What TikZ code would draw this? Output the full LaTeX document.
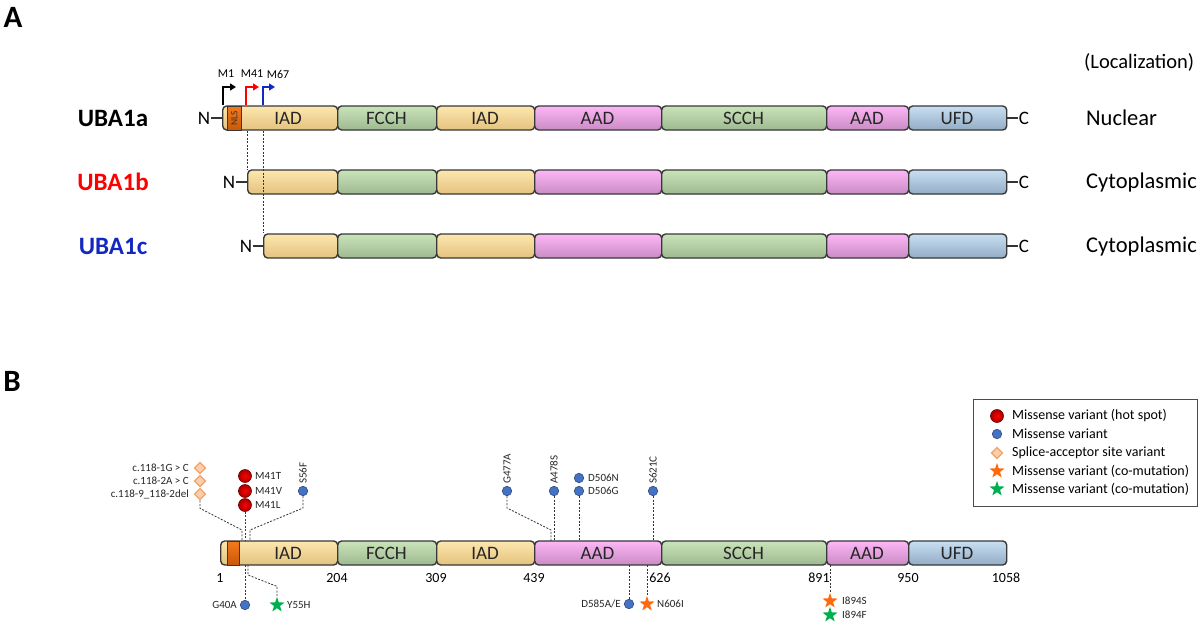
\documentclass[tikz,border=0pt]{standalone}
\usepackage{fontspec}
\setmainfont{Carlito}
\usetikzlibrary{arrows.meta,shapes.geometric}

\definecolor{iadT}{HTML}{FDE7AE}
\definecolor{iadB}{HTML}{E3C27E}
\definecolor{fcchT}{HTML}{CAE4BA}
\definecolor{fcchB}{HTML}{9DB98F}
\definecolor{aadT}{HTML}{FDB6F6}
\definecolor{aadB}{HTML}{C98BC4}
\definecolor{ufdT}{HTML}{C8DEF2}
\definecolor{ufdB}{HTML}{93ADC5}
\definecolor{nlsT}{HTML}{F57A1C}
\definecolor{nlsB}{HTML}{C95808}
\definecolor{misblue}{HTML}{4472C4}
\definecolor{splfill}{HTML}{F9CDAE}
\definecolor{splline}{HTML}{F4A366}
\definecolor{coorange}{HTML}{FF6A10}
\definecolor{cogreen}{HTML}{00B050}
\definecolor{isoblue}{HTML}{1428C0}

\newcommand{\fsz}[1]{\fontsize{#1}{#1}\selectfont}
% domain map shared by every bar: start/end/style/label
\newcommand{\domains}{337/436/fcch/FCCH, 436/534/iad/IAD, 534/661/aad/AAD, 661/826/scch/SCCH, 826/908/aad/AAD, 908/1006/ufd/UFD}

\tikzset{
  dom/.style={draw=black!78,line width=1.4pt,rounded corners=4pt,minimum height=24pt,inner sep=0pt,anchor=west},
  iad/.style={top color=iadT,bottom color=iadB},
  fcch/.style={top color=fcchT,bottom color=fcchB},
  scch/.style={fcch},
  aad/.style={top color=aadT,bottom color=aadB},
  ufd/.style={top color=ufdT,bottom color=ufdB},
  dlab/.style={font=\fsz{19},text=black!85},
  dline/.style={dash pattern=on 2pt off 1.5pt,line width=0.8pt,black!80},
  initarr/.style={line width=1.4pt,-{Triangle[length=6pt,width=7pt]}},
  small/.style={font=\fsz{11},text=black!85},
  hot/.style={circle,minimum size=13pt,inner color=red,outer color=red!65!black,draw=red!45!black,line width=0.6pt},
  mis/.style={circle,minimum size=9.5pt,fill=misblue,draw=misblue!65!black,line width=0.6pt},
  spl/.style={diamond,minimum size=11.5pt,fill=splfill,draw=splline,line width=1.2pt},
  costar/.style={star,star points=5,star point ratio=2.5,minimum size=16pt}
}

\begin{document}
\begin{tikzpicture}[x=1pt,y=-1pt,every node/.style={inner sep=0pt}]
  \useasboundingbox (0,0) rectangle (1200,624);

  %%% A: isoforms
  \node[font=\bfseries\fsz{31}] (pa) at (13,17) {A};
  \node[font=\fsz{20.5},anchor=west] (loc) at (1084,62) {(Localization)};

  \foreach \r/\y/\xs in {a/118/222,b/182/247,c/246/263,p/553/220}{
    \node[dom,iad,minimum width={337-\xs}] (\r-0) at (\xs,\y) {};
    \foreach \xa/\xb/\st/\lab [count=\i] in \domains
      \node[dom,\st,minimum width={\xb-\xa}] (\r-\i) at (\xa,\y) {};
  }
  \foreach \r/\y in {a/118,p/553}{
    \node[dlab] at (288,\y) {IAD};
    \foreach \xa/\xb/\st/\lab in \domains
      \node[dlab] at ({(\xa+\xb)/2},\y) {\lab};
  }

  \node[dom,top color=nlsT,bottom color=nlsB,rounded corners=0pt,line width=0.8pt,minimum width=14pt] (a-nls) at (227,118) {};
  \node[rotate=90,font=\fsz{9.5},text=black!80] at (a-nls.center) {NLS};

  % N and C ends
  \foreach \r/\y/\xn in {a/118/204,b/182/229,c/246/246}{
    \node[font=\fsz{19},inner sep=1pt] (n-\r) at (\xn,\y) {N};
    \draw[line width=1.4pt,black!80] (n-\r.east) -- (\r-0.west);
    \node[font=\fsz{19},inner sep=1pt] (c-\r) at (1024,\y) {C};
    \draw[line width=1.4pt,black!80] (\r-6.east) -- (c-\r.west);
  }

  \node[font=\bfseries\fsz{25}] (name-a) at (113,118) {UBA1a};
  \node[font=\bfseries\fsz{25},text=red] (name-b) at (113,182) {UBA1b};
  \node[font=\bfseries\fsz{25},text=isoblue] (name-c) at (113,246) {UBA1c};
  \node[font=\fsz{22.5},anchor=west] (loc-a) at (1086,118) {Nuclear};
  \node[font=\fsz{22.5},anchor=west] (loc-b) at (1086,182) {Cytoplasmic};
  \node[font=\fsz{22.5},anchor=west] (loc-c) at (1086,246) {Cytoplasmic};

  % start codons
  \coordinate (s-m1) at (223,105);
  \coordinate (s-m41) at (246,105);
  \coordinate (s-m67) at (263,105);
  \draw[initarr,black] (s-m1) -- ++(0,-18) -- ++(13,0);
  \draw[initarr,red] (s-m41) -- ++(0,-18) -- ++(13,0);
  \draw[initarr,isoblue] (s-m67) -- ++(0,-18) -- ++(12,0);
  \node[font=\fsz{12}] (l-m1) at (226,74) {M1};
  \node[font=\fsz{12}] (l-m41) at (252,74) {M41};
  \node[font=\fsz{12}] (l-m67) at (278,74) {M67};

  \draw[dline] (b-0.west |- a-0.south) -- (b-0.north west);
  \draw[dline] (c-0.west |- a-0.south) -- (c-0.north west);

  %%% B: variants
  \node[font=\bfseries\fsz{31}] (pb) at (12,381) {B};
  \node[dom,top color=nlsT,bottom color=nlsB,rounded corners=0pt,line width=0.8pt,minimum width=12pt] (p-nls) at (227,553) {};

  \foreach \x/\n in {220/1,337/204,436/309,534/439,660/626,819/891,908/950,1006/1058}
    \node[font=\fsz{14}] at (\x,578) {\n};

  % points on the bar
  \coordinate (t-spl) at (242,541);
  \coordinate (t-m41) at (245,541);
  \coordinate (t-s56) at (250,541);
  \coordinate (t-g477) at (551,541);
  \coordinate (t-a478) at (554,541);
  \coordinate (t-d506) at (579,541);
  \coordinate (t-s621) at (653,541);
  \coordinate (b-g40) at (245,565);
  \coordinate (b-y55) at (248,565);
  \coordinate (b-d585) at (629,565);
  \coordinate (b-n606) at (647,565);
  \coordinate (b-i894) at (830,565);

  % above the bar
  \node[spl] (spl1) at (200,468) {};
  \node[spl] (spl2) at (200,481) {};
  \node[spl] (spl3) at (200,494) {};
  \node[small,anchor=east] at (189,468) {c.118-1G > C};
  \node[small,anchor=east] at (189,481) {c.118-2A > C};
  \node[small,anchor=east] at (189,494) {c.118-9\_118-2del};
  \draw[dline] (spl3.south) -- ++(0,8) -- ([yshift=11pt]t-spl) -- (t-spl);

  \node[hot] (m41t) at (245,476) {};
  \node[hot] (m41v) at (245,491) {};
  \node[hot] (m41l) at (245,505) {};
  \node[small,anchor=west] at (255,476) {M41T};
  \node[small,anchor=west] at (255,491) {M41V};
  \node[small,anchor=west] at (255,505) {M41L};
  \draw[dline,red!75!black] (m41l.south) -- (t-m41);

  \node[mis] (s56) at (303,491) {};
  \node[small,rotate=90,anchor=west] at (303,484) {S56F};
  \draw[dline] (s56.south) -- ++(0,12) -- ([yshift=11pt]t-s56) -- (t-s56);

  \node[mis] (g477) at (507,491) {};
  \node[small,rotate=90,anchor=west] at (507,484) {G477A};
  \draw[dline] (g477.south) -- ++(0,12) -- ([yshift=11pt]t-g477) -- (t-g477);

  \node[mis] (a478) at (554,491) {};
  \node[small,rotate=90,anchor=west] at (554,484) {A478S};
  \draw[dline] (a478.south) -- (t-a478);

  \node[mis] (d506n) at (579,478) {};
  \node[mis] (d506g) at (579,491) {};
  \node[small,anchor=west] at (588,478) {D506N};
  \node[small,anchor=west] at (588,491) {D506G};
  \draw[dline] (d506g.south) -- (t-d506);

  \node[mis] (s621) at (653,491) {};
  \node[small,rotate=90,anchor=west] at (653,484) {S621C};
  \draw[dline] (s621.south) -- (t-s621);

  % below the bar
  \node[mis] (g40) at (245,605) {};
  \node[small,anchor=east] at (237,605) {G40A};
  \draw[dline] (b-g40) -- (g40.north);

  \node[costar,fill=cogreen] (y55) at (277,605) {};
  \node[small,anchor=west] at (287,605) {Y55H};
  \draw[dline] (b-y55) -- ++(0,10) -- ([yshift=10pt]y55.north) -- (y55.north);

  \node[mis] (d585) at (629,604) {};
  \node[small,anchor=east] at (621,604) {D585A/E};
  \draw[dline] (b-d585) -- (d585.north);

  \node[costar,fill=coorange] (n606) at (647,604) {};
  \node[small,anchor=west] at (657,604) {N606I};
  \draw[dline] (b-n606) -- (n606.north);

  \node[costar,fill=coorange] (i894s) at (830,601) {};
  \node[costar,fill=cogreen] (i894f) at (830,615) {};
  \node[small,anchor=west] at (842,601) {I894S};
  \node[small,anchor=west] at (842,615) {I894F};
  \draw[dline] (b-i894) -- (i894s.north);

  % legend
  \node[draw=black!70,line width=0.8pt,minimum width=224pt,minimum height=107pt,anchor=north west] (legend) at (973,399) {};
  \node[hot] (k1) at (997,416) {};
  \node[mis] (k2) at (997,434) {};
  \node[spl] (k3) at (997,453) {};
  \node[costar,fill=coorange] (k4) at (997,471) {};
  \node[costar,fill=cogreen] (k5) at (997,489) {};
  \foreach \k/\txt in {1/Missense variant (hot spot),2/Missense variant,3/Splice-acceptor site variant,4/Missense variant (co-mutation),5/Missense variant (co-mutation)}
    \node[font=\fsz{14},anchor=west] at ([xshift=15pt]k\k.center) {\txt};
\end{tikzpicture}
\end{document}
